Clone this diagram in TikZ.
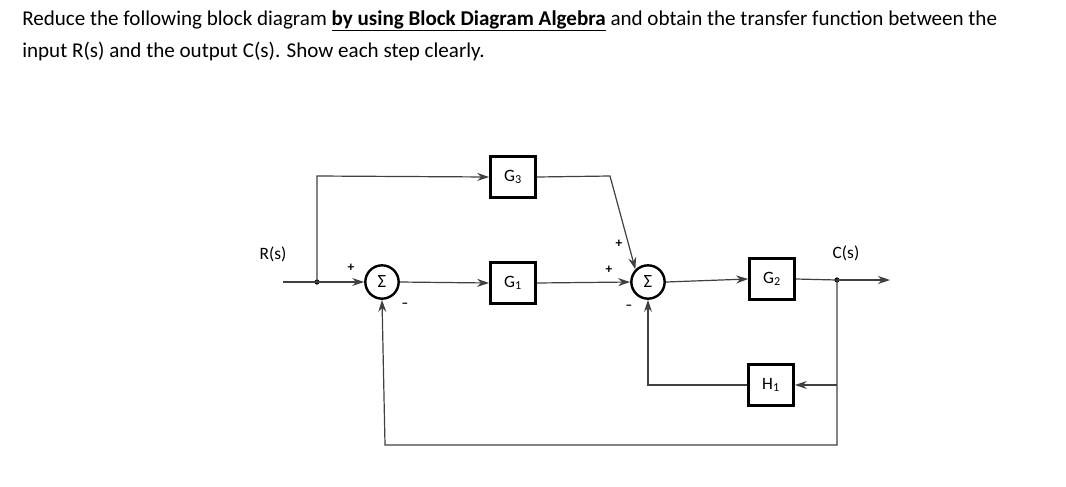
\documentclass[tikz,border=0pt]{standalone}
\usepackage{fontspec}
\setmainfont{Carlito}
\usetikzlibrary{arrows.meta}
\begin{document}
\begin{tikzpicture}[x=0.75pt,y=-0.75pt,
  blk/.style={draw,line width=1.8pt,minimum width=34pt,minimum height=31pt,inner sep=0pt,font=\fontsize{13}{15}\selectfont},
  sumc/.style={draw,circle,line width=1.8pt,minimum size=25pt,inner sep=0pt,font=\fontsize{14}{15}\selectfont},
  ln/.style={draw=black!75,line width=0.9pt},
  ar/.style={ln,-{Stealth[length=9pt,width=6pt]}},
  sg/.style={font=\bfseries\fontsize{10}{11}\selectfont,inner sep=0pt},
  lbl/.style={font=\fontsize{13}{15}\selectfont,inner sep=0pt}]
\useasboundingbox (0,0) rectangle (1066,486);
\node[anchor=west,font=\fontsize{15.8}{18}\selectfont,inner sep=0pt] (t1) at (22,21) {Reduce the following block diagram \textbf{\underline{by using Block Diagram Algebra}} and obtain the transfer function between the};
\node[anchor=west,font=\fontsize{15.8}{18}\selectfont,inner sep=0pt] (t2) at (22,51) {input R(s) and the output C(s). Show each step clearly.};
\node[sumc] (s1) at (382,282) {Σ};
\node[sumc] (s2) at (648,282) {Σ};
\node[blk] (g3) at (513,177) {G\textsubscript{3}};
\node[blk] (g1) at (513,283) {G\textsubscript{1}};
\node[blk] (g2) at (772,279) {G\textsubscript{2}};
\node[blk] (h1) at (771,385) {H\textsubscript{1}};
\coordinate (in) at (283,282);
\coordinate (j1) at (317,282);
\coordinate (j1u) at (317,176);
\coordinate (g3r) at (610,176);
\coordinate (j2) at (837,280);
\coordinate (out) at (890,280);
\coordinate (fb1) at (837,445);
\coordinate (fb2) at (385,445);
\coordinate (hb) at (837,385);
\coordinate (hl) at (648,385);
\fill (j1) circle (2.6);
\fill (j2) circle (2.6);
\draw[ln] (in) -- (j1);
\draw[ar] (j1) -- (s1.west);
\draw[ar] (j1) -- (j1u) -- (g3.west);
\draw[ar] (g3.east) -- (g3r) -- (s2.north west);
\draw[ar] (s1.east) -- (g1.west);
\draw[ar] (g1.east) -- (s2.west);
\draw[ar] (s2.east) -- (g2.west);
\draw[ln] (g2.east) -- (j2);
\draw[ar] (j2) -- (out);
\draw[ar] (j2) -- (fb1) -- (fb2) -- (s1.south);
\draw[ar] (hb) -- (h1.east);
\draw[ar] (h1.west) -- (hl) -- (s2.south);
\node[lbl] (r) at (273,254) {R(s)};
\node[lbl] (c) at (846,253) {C(s)};
\node[sg] at (351,268) {+};
\node[sg] at (405,305) {--};
\node[sg] at (619,244) {+};
\node[sg] at (609,270) {+};
\node[sg] at (629,307) {--};
\end{tikzpicture}
\end{document}
